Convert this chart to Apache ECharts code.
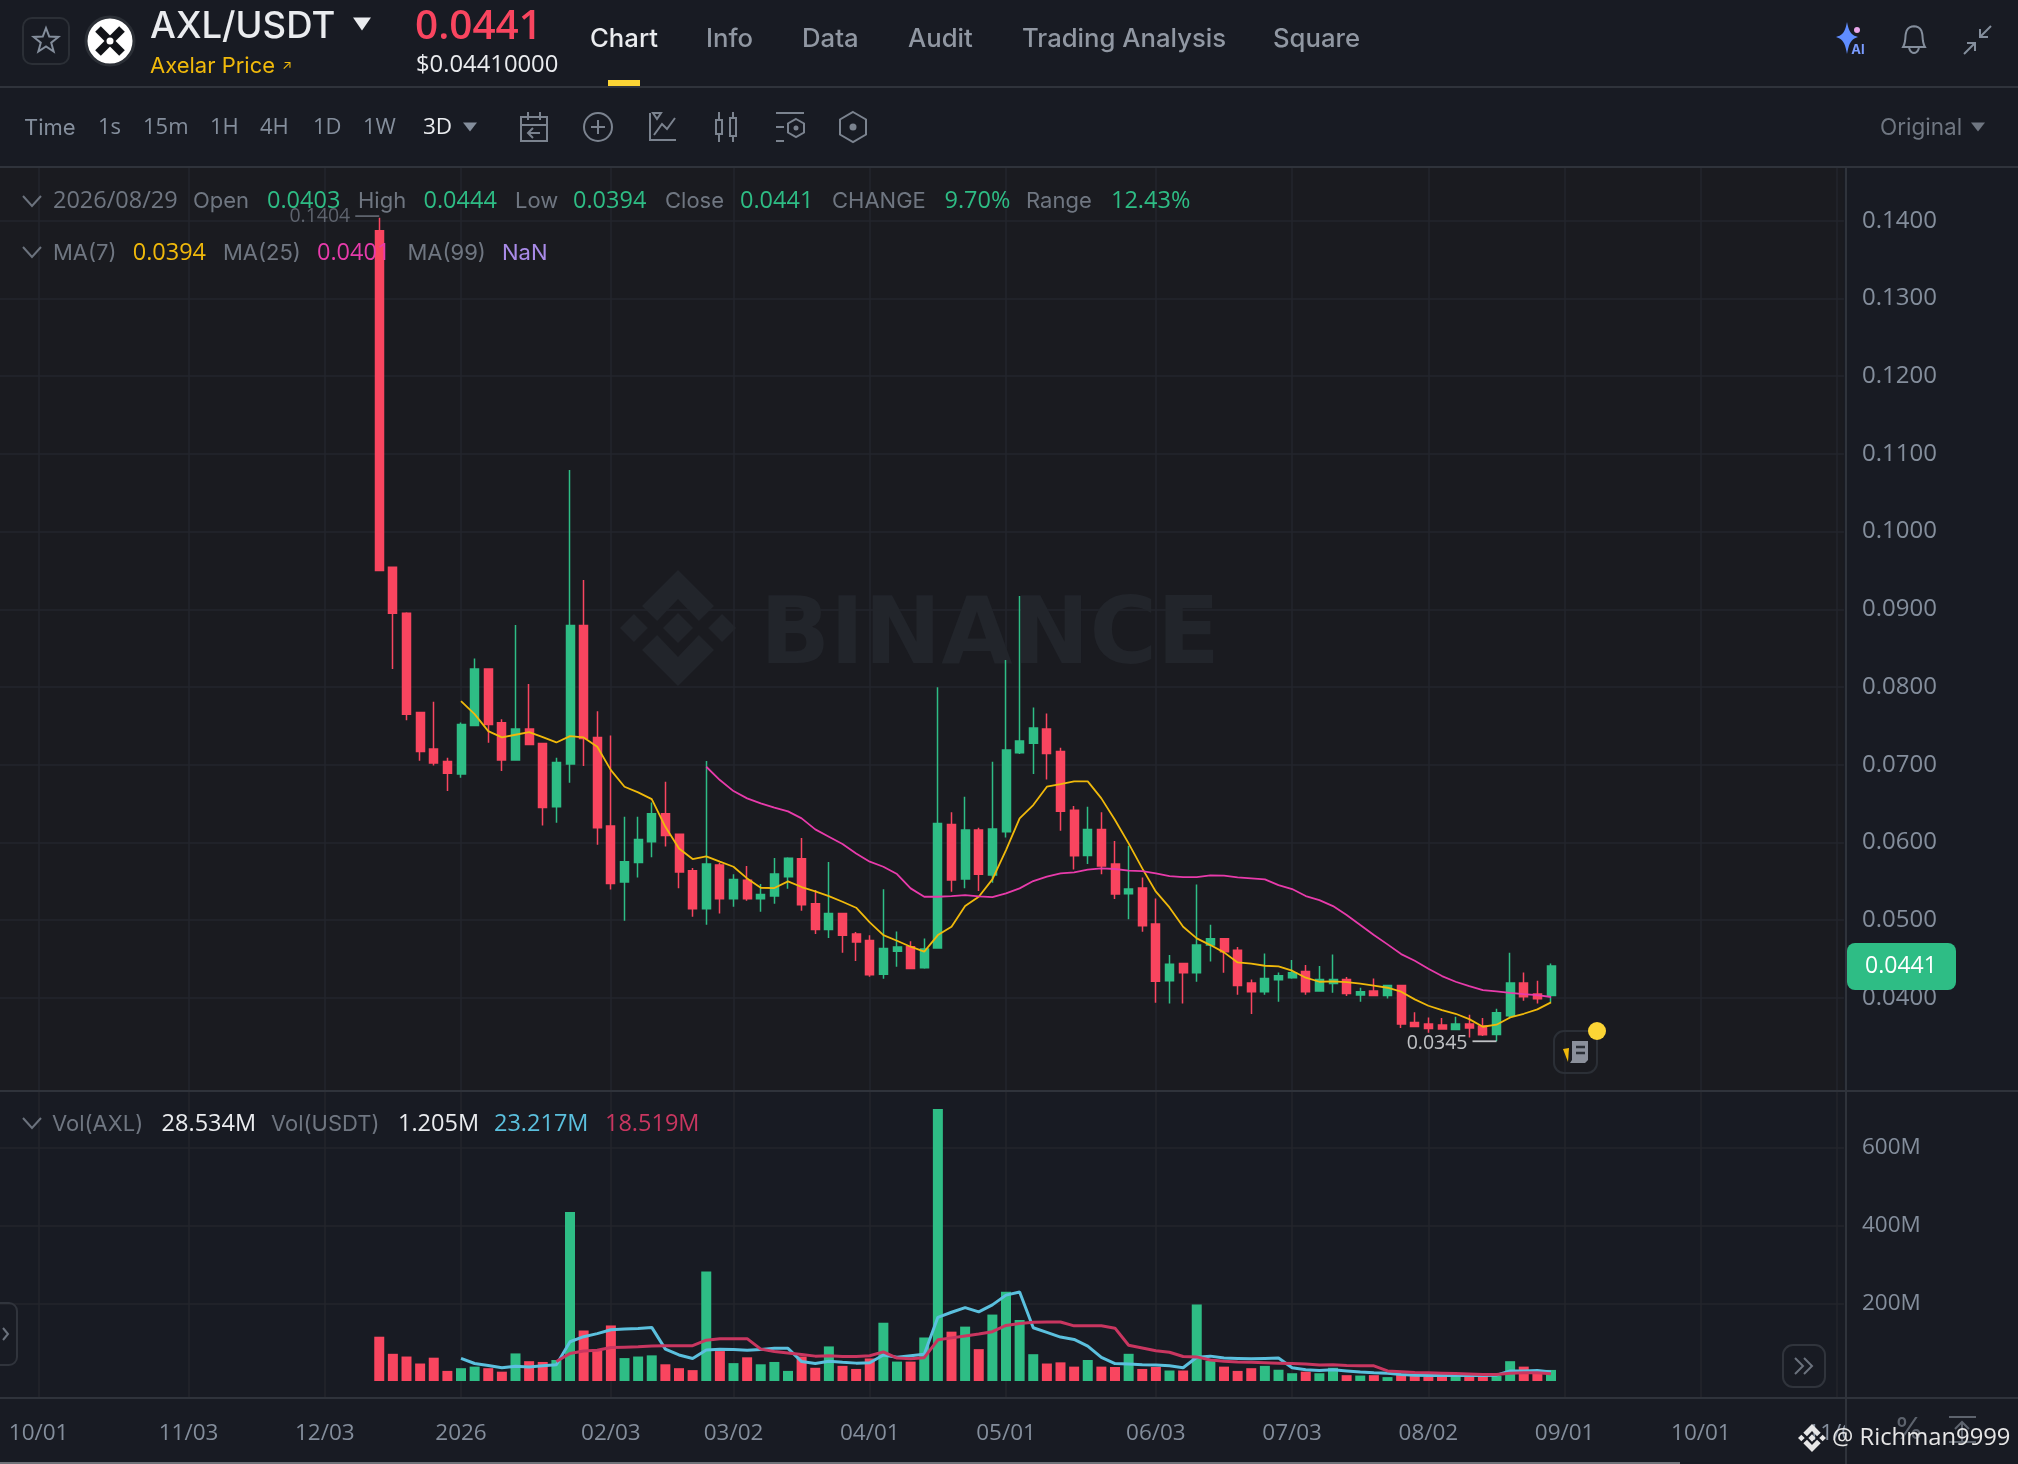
<!DOCTYPE html>
<html><head><meta charset="utf-8">
<style>html,body{margin:0;padding:0;background:#181b23}#c{width:2018px;height:1464px}</style>
<script src="https://cdn.jsdelivr.net/npm/echarts@6/dist/echarts.min.js"></script>
</head><body><div id="c"></div>
<script>
// ---- Data (3-day candles, first candle 2025-12-14, last 2026-08-29) ----
const candleOpen = [.1387,.0954,.0895,.0767,.0720,.0704,.06879,.07505,.0823,.07539,.07059,.07458,.07273,.06458,.07007,.08792,.07351,.06209,.05489,.05742,.06008,.06368,.06103,.05635,.05146,.05708,.05275,.05511,.05275,.05309,.05558,.05789,.05210,.04880,.05086,.04820,.04738,.04301,.04597,.04657,.04387,.04640,.06231,.05528,.06158,.05579,.06137,.07154,.07274,.07458,.07171,.06412,.05832,.06167,.05721,.05339,.05412,.04949,.04219,.04442,.04322,.04678,.04760,.04610,.04189,.04078,.04232,.04258,.04339,.04086,.04185,.04236,.04035,.04086,.04030,.04159,.03683,.03661,.03648,.03592,.03661,.03635,.03528,.03768,.04189,.04047,.0403];
const candleClose = [.0950,.0895,.0765,.0717,.0702,.0689,.07518,.0823,.07518,.07059,.07458,.07260,.06450,.07029,.08792,.07338,.06188,.05472,.05750,.06038,.06368,.06089,.05618,.05146,.05721,.05275,.05523,.05275,.05330,.05592,.05794,.05197,.04880,.05086,.04803,.04717,.04297,.04635,.04653,.04378,.04627,.06244,.05515,.06158,.05588,.06171,.07188,.07304,.07471,.07145,.06399,.05828,.06167,.05695,.05335,.05399,.04927,.04211,.04430,.04322,.04678,.04760,.04593,.04159,.04078,.04249,.04284,.04322,.04078,.04236,.04236,.04056,.04078,.04030,.04159,.03662,.03631,.03605,.03597,.03661,.03610,.03524,.03807,.04189,.04013,.03987,.0441];
const candleLow = [.0950,.0823,.0757,.0705,.0699,.0666,.06831,.07505,.07282,.06917,.0706,.0726,.06218,.06252,.06767,.06982,.05969,.05394,.04991,.05549,.05810,.05948,.05408,.05043,.04940,.05086,.05172,.05249,.05107,.05210,.05403,.05120,.04820,.04768,.04580,.04472,.04271,.04245,.04399,.04378,.04374,.04640,.05365,.05408,.05373,.05481,.06064,.07137,.06879,.06810,.06150,.05652,.05721,.05588,.05270,.05009,.04850,.03936,.03927,.03926,.04206,.04468,.04322,.04039,.03790,.04039,.03949,.04245,.04039,.04082,.04065,.04022,.03949,.0403,.03992,.03610,.03619,.03550,.03592,.03592,.03490,.03507,.0344,.03734,.03961,.03927,.0394];
const candleHigh = [.1404,.0955,.0896,.0767,.0781,.0709,.07544,.08367,.08239,.07586,.08796,.08037,.07273,.07089,.10791,.09376,.07689,.07376,.06329,.06329,.06514,.06780,.06103,.05669,.07046,.05738,.05588,.05695,.05463,.05798,.05807,.06055,.05386,.05747,.05086,.04846,.04803,.05395,.04854,.04726,.04764,.07995,.06386,.06587,.06188,.07038,.08346,.0917,.07737,.07660,.07218,.06467,.06459,.06386,.06017,.05957,.05549,.05279,.04550,.04451,.05459,.04940,.0476,.04653,.04236,.04571,.04326,.04485,.04421,.04408,.04558,.04266,.04129,.04249,.04159,.04159,.03812,.03747,.03738,.03755,.03781,.03738,.03858,.04579,.04326,.04219,.0444];
const ma7 = [.07818,.07651,.07432,.07351,.07385,.07419,.07355,.07286,.07368,.07351,.07230,.06930,.06716,.06643,.06557,.0620,.05922,.05785,.05819,.05751,.05686,.05536,.05416,.05412,.05498,.05425,.05369,.05309,.05236,.05159,.04970,.04807,.04734,.04657,.04593,.04807,.04914,.05180,.05300,.05523,.05901,.06309,.06480,.06716,.06750,.06785,.06785,.06566,.06287,.05987,.05665,.05365,.05163,.04914,.04764,.04678,.04584,.04455,.04438,.04412,.04404,.04348,.04258,.04206,.04211,.04202,.04181,.04155,.04129,.04078,.03979,.03897,.03841,.03794,.03725,.03627,.03653,.03747,.03794,.03850,.0394];
const ma25 = [.06973,.06802,.06660,.06566,.06502,.06446,.06399,.06309,.06167,.06073,.05978,.05858,.05751,.05686,.05592,.05408,.05300,.05300,.05309,.05322,.05304,.05296,.05343,.05408,.05502,.05558,.05601,.05614,.05648,.05665,.05657,.05635,.05631,.05601,.05566,.05553,.05553,.05575,.05571,.05549,.05536,.05523,.05450,.05399,.05309,.05257,.05180,.05064,.04936,.04807,.04687,.04562,.04477,.04374,.04279,.04206,.04150,.04099,.04082,.04064,.04047,.04034,.0401];
const volume = [114,70,63,45,60,26,33,37,33,24,71,51,49,54,435,130,80,143,59,63,66,43,33,28,282,77,46,61,43,49,26,63,34,89,39,31,58,150,50,50,112,700,127,140,82,171,230,157,69,45,48,37,54,37,36,70,31,36,27,27,197,52,37,26,33,39,29,20,24,20,34,15,14,15,10,18,15,11,11,11,13,13,13,51,37,24,28.5];
const volMaFast = [58,45,40,34,38,36,39,42,101,114,122,132,134,135,138,82,67,58,80,82,81,79,81,84,84,50,45,51,48,46,47,67,61,65,69,164,177,189,178,196,221,229,137,125,113,107,90,61,45,44,42,41,39,34,61,64,59,58,57,58,59,34,29,27,29,26,23,21,20,17,15,14,14,14,14,14,15,26,26,27,23.2];
const volMaSlow = [50,71,77,79,86,87,88,90,91,91,91,105,109,109,109,82,76,72,68,64,65,63,63,65,75,59,57,60,106,111,116,121,127,143,148,151,152,152,142,142,142,136,92,85,78,74,63,62,54,51,49,48,47,46,45,44,41,42,40,39,39,26,24,22,21,20,19,18,17,17,20,21,21,18.5];
const priceTicks = [.04,.05,.06,.07,.08,.09,.10,.11,.12,.13,.14];
const volumeTicks = [200,400,600];
const dateTicks = {'2025-09-30':'10/01','2025-11-02':'11/03','2025-12-02':'12/03','2026-01-01':'2026','2026-02-03':'02/03','2026-03-02':'03/02','2026-04-01':'04/01','2026-05-01':'05/01','2026-06-03':'06/03','2026-07-03':'07/03','2026-08-02':'08/02','2026-09-01':'09/01','2026-10-01':'10/01','2026-10-31':'11/01'};
const extremes = [['2025-12-14',.1406,'0.1404'],['2026-08-17',.0344,'0.0345']];

// ---- Category slots: one every three days, before and after the candles ----
const categories = [];
{ const t0 = Date.UTC(2026,0,1), day = 864e5;
  for (let s = -34; s <= 101; s++) categories.push(new Date(t0 + s*3*day).toISOString().slice(0,10)); }
const FIRST = categories.indexOf('2025-12-14');
const pad = (arr, lead, fill='-') => new Array(FIRST + lead).fill(fill).concat(arr);
const UP='#2EBD85', DOWN='#F9455F', GRID='#23262d', DIV='#2f333b';

const candles = candleOpen.map((o,i)=>[o,candleClose[i],candleLow[i],candleHigh[i]]);
const volBars = volume.map((v,i)=>({value:v,itemStyle:{color:candleClose[i]>=candleOpen[i]?UP:DOWN}}));

// ---- UI drawn with graphic elements ----
const FONT='Inter, "Open Sans", sans-serif', NUM='"Open Sans", sans-serif';
const g=[];
const T=(x,y,text,size,fill,o={})=>g.push({type:'text',x,y,z:o.z||100,silent:true,style:{text,fill,font:`${o.w||400} ${size}px ${o.f||FONT}`,align:o.a||'left',verticalAlign:'middle'}});
// small path-string reader: makes polyline / polygon elements for icons
const P=(d,stroke,w=2,fill='none',z=100)=>{
  const toks=d.match(/[MLHVCZ]|-?[\d.]+/g);let i=0,cur=[0,0],pts=[];
  const flush=(closed)=>{ if(pts.length>1) g.push({type:closed?'polygon':'polyline',z,silent:true,shape:{points:pts},style:{stroke:stroke==='none'?null:stroke,lineWidth:w,fill:closed?fill:null}}); pts=[]; };
  let cmd='';
  while(i<toks.length){
    if(/[A-Z]/.test(toks[i])) cmd=toks[i++];
    if(cmd==='M'){flush(false);cur=[+toks[i++],+toks[i++]];pts=[cur];cmd='L';}
    else if(cmd==='L'){cur=[+toks[i++],+toks[i++]];pts.push(cur);}
    else if(cmd==='H'){cur=[+toks[i++],cur[1]];pts.push(cur);}
    else if(cmd==='V'){cur=[cur[0],+toks[i++]];pts.push(cur);}
    else if(cmd==='C'){const a=[+toks[i++],+toks[i++]],b=[+toks[i++],+toks[i++]],e=[+toks[i++],+toks[i++]],s=cur;
      for(let k=1;k<=10;k++){const t=k/10,u=1-t;pts.push([u*u*u*s[0]+3*u*u*t*a[0]+3*u*t*t*b[0]+t*t*t*e[0],u*u*u*s[1]+3*u*u*t*a[1]+3*u*t*t*b[1]+t*t*t*e[1]]);}cur=e;}
    else if(cmd==='Z'){const st=pts[0];flush(true);cur=st;cmd='';}
  }
  flush(false);
};
const R=(x,y,w,h,fill,z=100,r=0,stroke)=>g.push({type:'rect',z,silent:true,shape:{x,y,width:w,height:h,r},style:{fill:fill==='none'?null:fill,stroke:stroke||null,lineWidth:stroke?2:0}});
const C=(cx,cy,r,fill,stroke,w=2,z=100)=>g.push({type:'circle',z,silent:true,shape:{cx,cy,r},style:{fill:fill==='none'?null:fill,stroke:stroke||null,lineWidth:w}});
const tri=(cx,cy,w,h,c)=>P(`M${cx-w/2} ${cy-h/2}L${cx+w/2} ${cy-h/2}L${cx} ${cy+h/2}Z`,'none',0,c);
const chev=(cx,cy,c='#6b727d')=>P(`M${cx-9} ${cy-5}L${cx} ${cy+5}L${cx+9} ${cy-5}`,c,2);
const poly=pts=>'M'+pts.map(p=>p.join(' ')).join('L')+'Z';
function bnb(cx,cy,R0,c,z){
  const dia=(x,y,r)=>P(poly([[x,y-r],[x+r,y],[x,y+r],[x-r,y]]),'none',0,c,z);
  dia(cx,cy,R0*.26);dia(cx-R0*.76,cy,R0*.24);dia(cx+R0*.76,cy,R0*.24);
  [-1,1].forEach(s=>P(poly([[cx,cy+s*R0],[cx+R0*.62,cy+s*R0*.38],[cx+R0*.36,cy+s*R0*.12],[cx,cy+s*R0*.5],[cx-R0*.36,cy+s*R0*.12],[cx-R0*.62,cy+s*R0*.38]]),'none',0,c,z));
}
// watermark
bnb(678,628,58,'#22252b',1);
T(760,639,'BINANCE',92,'#22252b',{w:700,z:1,f:'"DejaVu Sans"'});

// dividers
R(0,86,2018,2,DIV);R(0,166,2018,2,DIV);R(0,1090,2018,2,DIV);R(0,1397,2018,2,DIV);
R(1845,167,2,1297,DIV);
// mask for axis labels running under the right column
R(1847,1399,171,63,'#181b23',50);
R(0,1462,1680,2,'#6f7278',60);
// header
R(23,18,46,46,'none',100,9,'#2b2f36');
{const pts=[];for(let i=0;i<10;i++){const a=-Math.PI/2+i*Math.PI/5,r=i%2?5.5:13;pts.push([46+r*Math.cos(a),41+r*Math.sin(a)]);}P(poly(pts),'#848e9c',2);}
C(110,41,24,'#ffffff','#2b2f36',3);
P('M98 29L122 53M122 29L98 53','#111318',8);
C(110,41,3.5,'#ffffff');
T(150,27,'AXL/USDT',36.5,'#eaecef',{w:500});
tri(362,24,18,13,'#eaecef');
T(150,66,'Axelar Price',22,'#F0B90B');
T(282,66,'↗',13,'#F0B90B');
T(415,27,'0.0441',40.5,DOWN,{w:600,f:NUM});
T(416,65,'$0.04410000',23.8,'#eaecef',{f:NUM});
[['Chart',590,'#eaecef'],['Info',706,'#9097a2'],['Data',802,'#9097a2'],['Audit',908,'#9097a2'],['Trading Analysis',1022,'#9097a2'],['Square',1273,'#9097a2']].forEach(t=>T(t[1],39,t[0],25.7,t[2],{w:500}));
R(608,80,32,6,'#FCD535');
P('M1847 22C1849 32 1851 35 1858 37C1851 39 1849 43 1847 54C1845 43 1843 39 1836 37C1843 35 1845 32 1847 22Z','none',0,'#5f8dff');
C(1857,30,3,'#e7a6e8');
T(1858,50,'AI',13,'#7a9cff',{w:700,a:'center'});
P('M1903 47C1906 42 1905 36 1906 33C1907 24 1921 24 1922 33C1923 36 1922 42 1925 47ZM1909 47C1910 55 1918 55 1919 47','#848e9c',2);
P('M1964 54L1975 43M1975 51L1975 43L1967 43M1991 26L1980 37M1980 29L1980 37L1988 37','#848e9c',2);
// toolbar
[['Time',24],['1s',98],['15m',143],['1H',210],['4H',260],['1D',313],['1W',363]].forEach(t=>T(t[1],128,t[0],22,'#848e9c',{w:400,f:t[0]==='Time'?FONT:NUM}));
T(423,128,'3D',22.5,'#eaecef',{w:500,f:NUM});tri(470,127,14,9,'#848e9c');
T(1880,128,'Original',22.5,'#6f7681');tri(1978,127,14,9,'#6f7681');
const I='#7b838f';
P('M521 117H547V141H521ZM521 125H547M528 112V120M540 112V120M540 133H528M533 128L528 133L533 138',I,2);
C(598,127,14,'none',I,2);P('M591 127H605M598 120V134',I,2);
P('M650 113V140H676M654 135L662 124L667 129L675 118M653 113H661L657 119Z',I,2);
P('M716 120H722V134H716ZM730 118H736V136H730ZM719 112V120M719 134V142M733 112V118M733 136V142',I,2);
P('M776 113H804M776 127H784M776 141H784',I,2);
P('M796 119L804 123.5V132.5L796 137L788 132.5V123.5Z',I,2);C(796,128,2.5,I);
P('M853 112L866 119.5V134.5L853 142L840 134.5V119.5Z',I,2);C(853,127,3.5,I);
// OHLC legend
const L='#6f7681', G=UP;
chev(32,201);chev(32,252);
const num=t=>/^[\d$.\/%M]+$/.test(t)?{f:NUM,size:23.5}:{f:FONT,size:22};
const row=(y,items)=>items.forEach(t=>{const n=num(t[0]);T(t[1],y,t[0],n.size,t[2],{f:n.f});});
row(201,[['2026/08/29',53,L],['Open',193,L],['0.0403',267,G],['High',358,L],['0.0444',423.5,G],['Low',515,L],['0.0394',573,G],['Close',665,L],['0.0441',740,G],['CHANGE',832,L],['9.70%',944.5,G],['Range',1026,L],['12.43%',1111,G]]);
row(253,[['MA(7)',53,L],['0.0394',132.7,'#F0B90B'],['MA(25)',223,L],['0.0401',317,'#E83BAB'],['MA(99)',407.5,L],['NaN',502,'#A98BE8']]);
// volume legend
chev(32,1123);
row(1124,[['Vol(AXL)',52,L],['28.534M',161.6,'#eaecef'],['Vol(USDT)',271,L],['1.205M',398,'#eaecef'],['23.217M',494,'#5BC0DE'],['18.519M',605,'#C93660']]);
// price tag
R(1847,943,109,47,'#2EBD85',100,8);
T(1901,966,'0.0441',23,'#ffffff',{a:'center',f:NUM});
// news badge
R(1554,1031,43,42,'none',100,10,'#2b2f36');
C(1597,1031,9,'#FCD535');
P('M1572 1041H1588V1060L1585 1063H1570L1572 1060Z','none',0,'#8b909b');
P('M1576 1047H1585M1576 1053H1585','#2b2f36',2.5);
P('M1563 1049L1569 1048L1568 1062Z','none',0,'#F0B90B');
// scroll button
R(1783,1345,42,42,'none',100,10,'#30343c');
P('M1795 1358L1803 1366L1795 1374M1804 1358L1812 1366L1804 1374','#6b727d',2);
// left handle
R(-14,1303,31,62,'none',100,8,'#30343c');
P('M3 1328L8 1334L3 1340','#6b727d',2);
// bottom right
T(1909,1430,'%',30,'#5d636d',{a:'center'});
P('M1949 1417H1976M1962 1443V1422M1955 1429L1962 1422L1969 1429M1949 1442H1976','#5d636d',2);
bnb(1812,1438,14,'#e6e6e6',101);
T(1832,1438,'@ Richman9999',23.8,'#e6e6e6',{z:101,f:NUM});

const xLabelFn = (i,v)=>v in dateTicks;
const chart=echarts.init(document.getElementById('c'),null,{width:2018,height:1464});
const gridH={left:-9.06,width:1853,outerBoundsMode:'none',containLabel:false};
chart.setOption({
  animation:false,
  backgroundColor:'#181b23',
  textStyle:{fontFamily:FONT},
  graphic:{elements:g},
  grid:[
    {...gridH,top:167,height:924,show:true,backgroundColor:'#1a1b20',borderWidth:0},
    {...gridH,top:1091,height:306.7}
  ],
  xAxis:[0,1].map(k=>({
    type:'category',gridIndex:k,data:categories,boundaryGap:true,
    axisLine:{show:false},axisTick:{show:false},
    splitLine:{show:true,interval:xLabelFn,alignWithLabel:true,lineStyle:{color:GRID,width:1.5}},
    axisLabel:k===1?{show:true,interval:xLabelFn,formatter:v=>dateTicks[v]||'',color:'#848e9c',fontFamily:NUM,fontSize:22.5,margin:24,hideOverlap:false}:{show:false}
  })),
  yAxis:[
    {type:'value',gridIndex:0,position:'right',min:.0280,max:.14692,scale:true,
     axisLine:{show:false},axisTick:{show:false,customValues:priceTicks},
     splitLine:{show:true,lineStyle:{color:GRID,width:1.5}},
     axisLabel:{customValues:priceTicks,formatter:v=>v.toFixed(4),color:'#848e9c',fontFamily:NUM,fontSize:24,margin:18,align:'left'}},
    {type:'value',gridIndex:1,position:'right',min:-43,max:746.5,
     axisLine:{show:false},axisTick:{show:false,customValues:volumeTicks},
     splitLine:{show:true,lineStyle:{color:GRID,width:1.5}},
     axisLabel:{customValues:volumeTicks,formatter:v=>v+'M',color:'#848e9c',fontFamily:NUM,fontSize:22.5,margin:18,align:'left'}}
  ],
  series:[
    {type:'candlestick',name:'AXL/USDT',xAxisIndex:0,yAxisIndex:0,barWidth:8.5,
     data:pad(candles,0,['-','-','-','-']),
     itemStyle:{color:UP,color0:DOWN,borderColor:UP,borderColor0:DOWN,borderWidth:1.5}},
    {type:'line',name:'MA(7)',xAxisIndex:0,yAxisIndex:0,data:pad(ma7,6),symbol:'none',lineStyle:{color:'#F0B90B',width:1.8},z:3},
    {type:'line',name:'MA(25)',xAxisIndex:0,yAxisIndex:0,data:pad(ma25,24),symbol:'none',lineStyle:{color:'#E83BAB',width:1.8},z:3},
    {type:'scatter',name:'extremes',xAxisIndex:0,yAxisIndex:0,
     data:extremes.map((e,i)=>({value:[e[0],e[1]],label:{formatter:e[2],color:i?'#eaecef':'#6f7681',offset:[0,i?2:0]},
       itemStyle:{color:i?'#eaecef':'#6f7681'}})),
     symbol:'rect',symbolSize:[24,1.8],symbolOffset:[-12,0],z:4,
     label:{show:true,position:'left',distance:5,fontSize:19.5,fontFamily:NUM}},
    {type:'bar',name:'Vol',xAxisIndex:1,yAxisIndex:1,barWidth:10,data:pad(volBars,0,{value:'-'})},
    {type:'line',name:'Vol fast',xAxisIndex:1,yAxisIndex:1,data:pad(volMaFast,6),symbol:'none',lineStyle:{color:'#5BC0DE',width:3},z:3},
    {type:'line',name:'Vol slow',xAxisIndex:1,yAxisIndex:1,data:pad(volMaSlow,13),symbol:'none',lineStyle:{color:'#C93660',width:3},z:4}
  ]
});
</script></body></html>
